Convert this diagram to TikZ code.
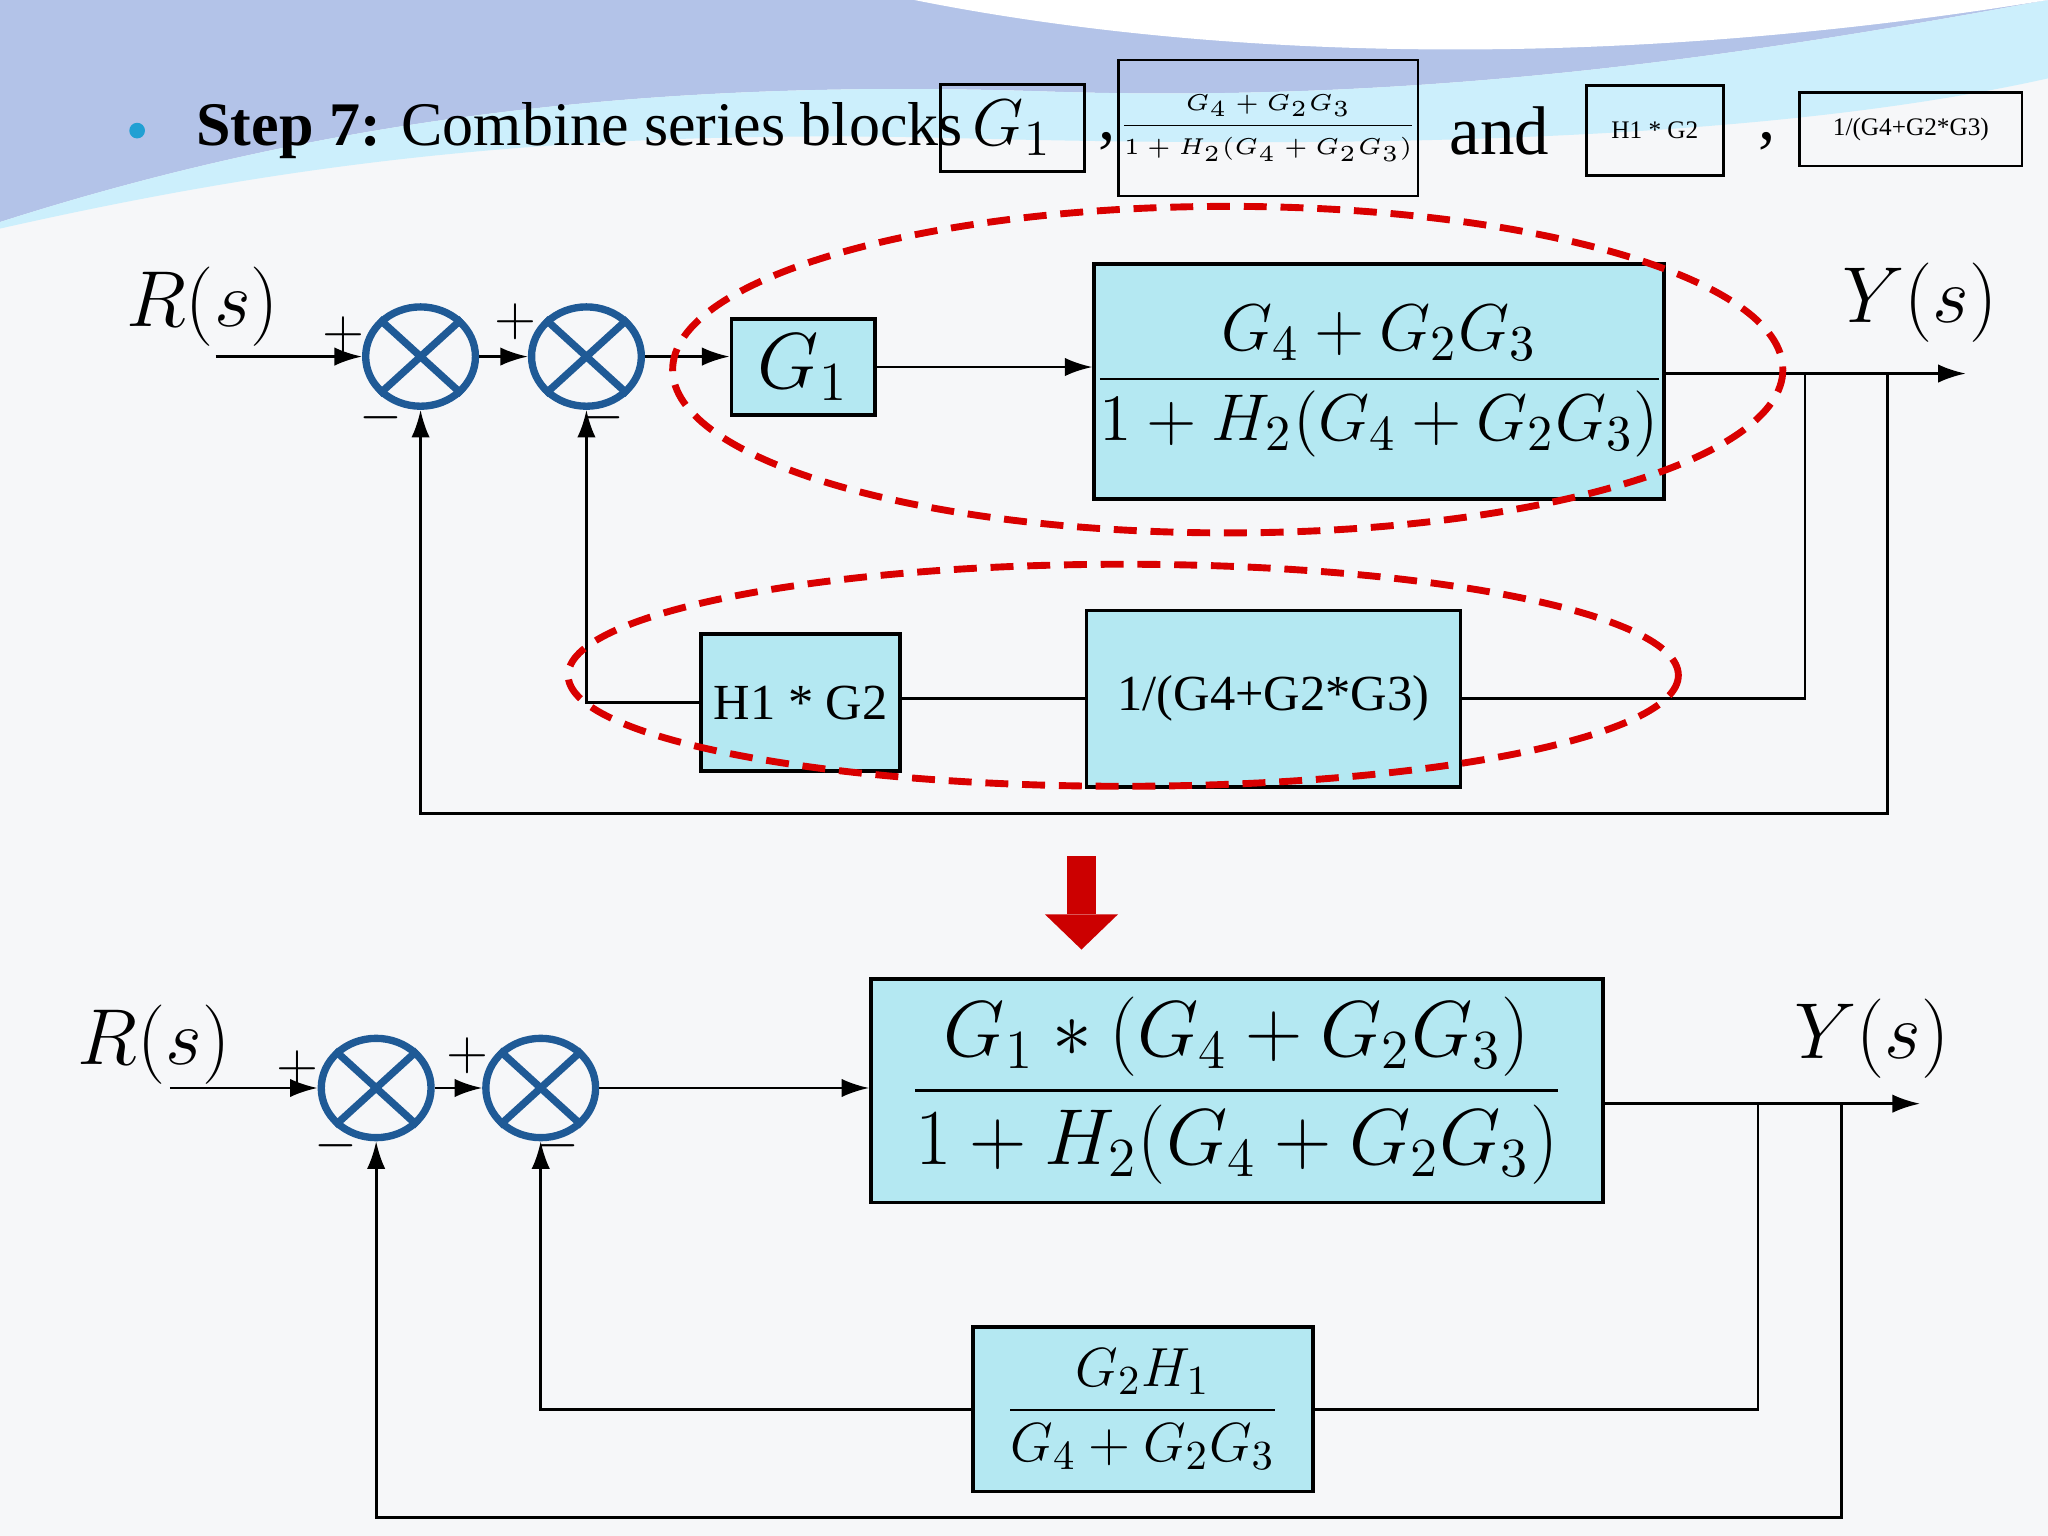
\documentclass[tikz,border=0pt]{standalone}
\usepackage{amsmath}
\usepackage{fontspec}
\setmainfont{Liberation Serif}
\usetikzlibrary{shapes.geometric,arrows.meta}
\definecolor{boxc}{HTML}{B4E8F2}
\definecolor{sumc}{HTML}{1F5A96}
\definecolor{bgc}{HTML}{F6F7F9}
\tikzset{
 blk/.style={draw,fill=boxc,inner sep=0pt,line width=0.8pt},
 sumn/.style={ellipse,draw=sumc,line width=1.6pt,minimum width=0.84cm,minimum height=0.76cm,inner sep=0pt},
 sig/.style={-{Latex[length=6pt,width=4pt]},line width=0.6pt},
 ln/.style={line width=0.6pt},
 hb/.style={draw,line width=0.6pt,inner sep=0pt},
 oval/.style={red!85!black,dashed,dash pattern=on 5pt off 3pt,line width=1.5pt}
}
\newcommand{\xcross}[1]{\draw[sumc,line width=1.6pt] (#1.north west)--(#1.south east) (#1.north east)--(#1.south west);}
\begin{document}
\begin{tikzpicture}[x=0.01cm,y=-0.01cm]
 \useasboundingbox (0,0) rectangle (1568,1176);
 \fill[bgc] (0,0) rectangle (1568,1176);
 % wave at top
 \fill[cyan!45!blue!30] (0,0)--(0,170) .. controls (250,90) and (500,60) .. (800,70) .. controls (1100,80) and (1350,40) .. (1568,0)--cycle;
 \fill[cyan!20] (0,170) .. controls (250,90) and (500,60) .. (800,70) .. controls (1100,80) and (1350,40) .. (1568,0)--(1568,60) .. controls (1300,120) and (900,110) .. (700,105) .. controls (400,100) and (200,130) .. (0,175)--cycle;
 \fill[white] (700,0) .. controls (900,40) and (1200,60) .. (1568,0)--cycle;
 % header
 \fill[cyan!70!teal] (105,100) circle (6);
 \node[anchor=west,font=\fontsize{13.5}{16}\selectfont] (hd) at (138,100) {\textbf{Step 7:} Combine series blocks};
 \node[hb,minimum width=1.10cm,minimum height=0.67cm,font=\fontsize{15}{18}\selectfont] (hg1) at (775,98) {$G_1$};
 \node[font=\fontsize{15}{18}\selectfont] (c1) at (848,108) {,};
 \node[hb,minimum width=2.07cm,minimum height=1.04cm,font=\fontsize{5}{6}\selectfont] (hf) at (971,98) {$\dfrac{G_4+G_2G_3}{1+H_2(G_4+G_2G_3)}$};
 \node[font=\fontsize{15}{18}\selectfont] (and) at (1148,100) {and};
 \node[hb,minimum width=1.05cm,minimum height=0.69cm,font=\fontsize{5.5}{7}\selectfont] (hh) at (1267,100) {H1 * G2};
 \node[font=\fontsize{15}{18}\selectfont] (c2) at (1353,108) {,};
 \node[hb,minimum width=1.70cm,minimum height=0.56cm,font=\fontsize{5.5}{7}\selectfont] (hi) at (1463,99) {1/(G4+G2*G3)};

 % top diagram
 \node[font=\fontsize{18}{20}\selectfont] (R1) at (155,235) {$R(s)$};
 \node[font=\fontsize{18}{20}\selectfont] (Y1) at (1470,232) {$Y(s)$};
 \node[sumn] (s1) at (322,273) {}; \xcross{s1}
 \node[sumn] (s2) at (449,273) {}; \xcross{s2}
 \node[blk,minimum width=1.10cm,minimum height=0.73cm,font=\fontsize{17}{20}\selectfont] (g1) at (615,281) {$G_1$};
 \node[blk,minimum width=4.13cm,minimum height=1.80cm,font=\fontsize{15}{20}\selectfont] (ga) at (1056,292) {$\dfrac{G_4+G_2G_3}{1+H_2(G_4+G_2G_3)}$};
 \node[blk,minimum width=1.52cm,minimum height=1.05cm,font=\fontsize{11}{13}\selectfont] (hg) at (613,538) {H1 * G2};
 \node[blk,minimum width=2.86cm,minimum height=1.35cm,font=\fontsize{11}{13}\selectfont] (iv) at (975,535) {1/(G4+G2*G3)};
 \coordinate (in1) at (165,273);
 \coordinate (out1) at (1505,286);
 \coordinate (b1) at (1382,286);
 \coordinate (b2) at (1445,286);
 \coordinate (low1) at (0,623);
 \draw[sig] (in1)--(s1.west);
 \draw[sig] (s1.east)--(s2.west);
 \draw[sig] (s2.east)--(s2.east-|g1.west);
 \draw[sig] (g1.east)--(ga.west|-g1.east);
 \draw[sig] (ga.east|-out1)--(out1);
 \draw[ln] (b1)|-(iv.east);
 \draw[ln] (iv.west)--(hg.east|-iv.west);
 \draw[sig] (hg.west)-|(s2.south);
 \draw[sig] (b2)|-(s1.south|-low1)--(s1.south);
 \node[font=\fontsize{12}{12}\selectfont] (p1) at (263,256) {$+$};
 \node[font=\fontsize{12}{12}\selectfont] (m1) at (292,320) {$-$};
 \node[font=\fontsize{12}{12}\selectfont] (p2) at (395,246) {$+$};
 \node[font=\fontsize{12}{12}\selectfont] (m2) at (462,320) {$-$};
 \draw[oval] (940,283) ellipse (425 and 125);
 \draw[oval] (860,517) ellipse (425 and 85);

 % arrow
 \fill[red!80!black] (817,655) rectangle (839,700);
 \fill[red!80!black] (800,700)--(856,700)--(828,727)--cycle;

 % bottom diagram
 \node[font=\fontsize{18}{20}\selectfont] (R2) at (118,800) {$R(s)$};
 \node[font=\fontsize{18}{20}\selectfont] (Y2) at (1433,795) {$Y(s)$};
 \node[sumn] (t1) at (288,833) {}; \xcross{t1}
 \node[sumn] (t2) at (414,833) {}; \xcross{t2}
 \node[blk,minimum width=5.60cm,minimum height=1.71cm,font=\fontsize{17}{22}\selectfont] (gf) at (947,835) {$\dfrac{G_1*(G_4+G_2G_3)}{1+H_2(G_4+G_2G_3)}$};
 \node[blk,minimum width=2.60cm,minimum height=1.26cm,font=\fontsize{13}{16}\selectfont] (fb) at (875,1079) {$\dfrac{G_2H_1}{G_4+G_2G_3}$};
 \coordinate (in2) at (130,833);
 \coordinate (out2) at (1470,845);
 \coordinate (d1) at (1346,845);
 \coordinate (d2) at (1410,845);
 \coordinate (bot) at (0,1162);
 \draw[sig] (in2)--(t1.west);
 \draw[sig] (t1.east)--(t2.west);
 \draw[sig] (t2.east)--(t2.east-|gf.west);
 \draw[sig] (gf.east|-out2)--(out2);
 \draw[ln] (d1)|-(fb.east);
 \draw[sig] (fb.west)-|(t2.south);
 \draw[sig] (d2)|-(t1.south|-bot)--(t1.south);
 \node[font=\fontsize{12}{12}\selectfont] (p3) at (228,818) {$+$};
 \node[font=\fontsize{12}{12}\selectfont] (m3) at (257,877) {$-$};
 \node[font=\fontsize{12}{12}\selectfont] (p4) at (358,808) {$+$};
 \node[font=\fontsize{12}{12}\selectfont] (m4) at (427,877) {$-$};
\end{tikzpicture}
\end{document}
